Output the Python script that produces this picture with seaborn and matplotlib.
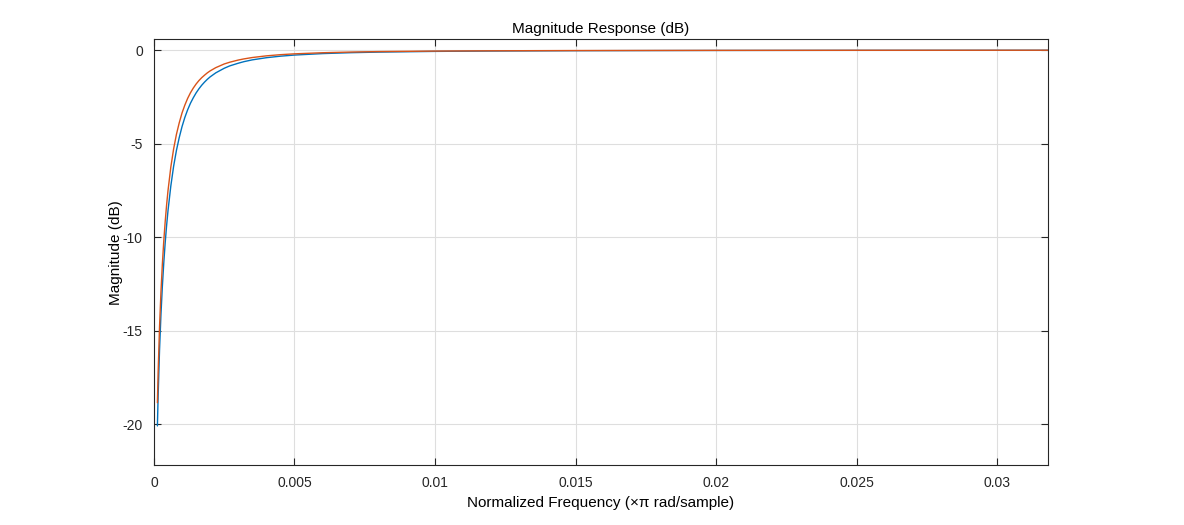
import numpy as np
import pandas as pd
import matplotlib
matplotlib.use("Agg")
import matplotlib.pyplot as plt
import seaborn as sns

# Normalized frequency (x pi rad/sample)
freq = [0.000124, 0.00015, 0.0002, 0.00025, 0.0003, 0.00035, 0.0004, 0.00045,
        0.0005, 0.0006, 0.0007, 0.0008, 0.0009, 0.001, 0.0011, 0.0012, 0.0013,
        0.0014, 0.0015, 0.0016, 0.0017, 0.0018, 0.0019, 0.002, 0.0022, 0.0025,
        0.0027, 0.003, 0.0032, 0.0035, 0.004, 0.0045, 0.005, 0.006, 0.007,
        0.008, 0.01, 0.012, 0.015, 0.02, 0.025, 0.0318]

# Magnitude (dB) - filter 1 (blue)
mag_blue = [-20.10, -18.48, -16.03, -14.15, -12.64, -11.39, -10.32, -9.40,
            -8.60, -7.28, -6.22, -5.37, -4.68, -4.09, -3.60, -3.19, -2.84,
            -2.55, -2.29, -2.07, -1.877, -1.71, -1.561, -1.43, -1.215, -0.97,
            -0.841, -0.70, -0.617, -0.52, -0.405, -0.323, -0.263, -0.185, -0.136,
            -0.105, -0.067, -0.047, -0.030, -0.017, -0.011, -0.007]

# Magnitude (dB) - filter 2 (orange)
mag_orange = [-18.86, -17.23, -14.79, -12.94, -11.45, -10.22, -9.19, -8.30,
              -7.53, -6.27, -5.29, -4.51, -3.89, -3.36, -2.94, -2.58, -2.28,
              -2.03, -1.814, -1.63, -1.473, -1.34, -1.215, -1.11, -0.937, -0.74,
              -0.645, -0.53, -0.469, -0.395, -0.306, -0.243, -0.198, -0.139, -0.102,
              -0.078, -0.050, -0.035, -0.022, -0.013, -0.008, -0.005]

xticks = [0, 0.005, 0.01, 0.015, 0.02, 0.025, 0.03]
xticklabels = ["0", "0.005", "0.01", "0.015", "0.02", "0.025", "0.03"]
yticks = [-20, -15, -10, -5, 0]
yticklabels = ["-20", "-15", "-10", "-5", "0"]

sns.set_theme(style="white")
plt.rcParams["font.family"] = ["Liberation Sans", "DejaVu Sans"]
plt.rcParams["axes.unicode_minus"] = False

df_blue = pd.DataFrame({"f": freq, "m": mag_blue})
df_orange = pd.DataFrame({"f": freq, "m": mag_orange})

fig = plt.figure(figsize=(11.84, 5.25), dpi=100)
ax = fig.add_axes([0.130, 0.1143, 0.755, 0.8105])

sns.lineplot(data=df_blue, x="f", y="m", ax=ax, color="#0072BD", linewidth=1.0, sort=True)
sns.lineplot(data=df_orange, x="f", y="m", ax=ax, color="#D95319", linewidth=1.0, sort=True)

ax.set_xlim(0, 0.0318)
ax.set_ylim(-22.19, 0.57)
ax.set_xticks(xticks)
ax.set_xticklabels(xticklabels)
ax.set_yticks(yticks)
ax.set_yticklabels(yticklabels)

ax.grid(True, color="#dedede", linewidth=0.8)
ax.set_axisbelow(True)
for s in ax.spines.values():
    s.set_color("#262626")
    s.set_linewidth(0.8)
    s.set_visible(True)

ax.tick_params(axis="both", which="both", direction="in", length=5, width=0.8,
               top=True, right=True, bottom=True, left=True,
               labelsize=10, labelcolor="#262626", color="#262626", pad=8)

ax.set_title("Magnitude Response (dB)", fontsize=11, color="#000000", pad=5)
ax.set_xlabel("Normalized Frequency (\u00d7\u03c0 rad/sample)", fontsize=11, color="#000000", labelpad=4)
ax.set_ylabel("Magnitude (dB)", fontsize=11, color="#000000", labelpad=0)

fig.savefig("out.png", dpi=100, facecolor="white")
